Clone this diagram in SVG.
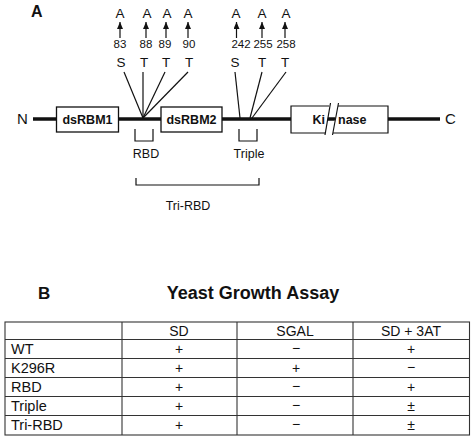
<svg xmlns="http://www.w3.org/2000/svg" width="474" height="439" viewBox="0 0 474 439">
<style>
text{font-family:"Liberation Sans",Arial,sans-serif;fill:#111}
.lab{font-size:13.5px;text-anchor:middle}
.sub{font-size:12.5px;text-anchor:middle}
.num{font-size:11.5px;text-anchor:middle}
.bold{font-weight:bold}
.box{fill:#fff;stroke:#111;stroke-width:1.3}
.thin{stroke:#111;stroke-width:1.2;fill:none}
.arr{stroke:#111;stroke-width:1.2;marker-end:url(#ah)}
.tl{stroke:#333;stroke-width:1.1}
.cell{font-size:14px;text-anchor:middle}
.row{font-size:14.5px}
</style>
<defs>
<marker id="ah" viewBox="0 0 7 6" refX="7" refY="3" markerWidth="7" markerHeight="6" markerUnits="userSpaceOnUse" orient="auto">
<path d="M0,0 L7,3 L0,6 Z" fill="#111"/>
</marker>
</defs>
<text x="31" y="17" font-size="16" class="bold">A</text>
<g id="connectors">
<line x1="33" y1="119" x2="440" y2="119" stroke="#111" stroke-width="3.5"/>
<line x1="124" y1="72" x2="143" y2="118" class="thin"/>
<line x1="143" y1="72" x2="143" y2="118" class="thin"/>
<line x1="165" y1="72" x2="143" y2="118" class="thin"/>
<line x1="188" y1="72" x2="143" y2="118" class="thin"/>
<line x1="235" y1="72" x2="240" y2="118" class="thin"/>
<line x1="262" y1="72" x2="250" y2="118" class="thin"/>
<line x1="286" y1="72" x2="252" y2="118" class="thin"/>
<path d="M135,129 V141 H153 V129" class="thin"/>
<path d="M239,129 V141 H257 V129" class="thin"/>
<path d="M136,178 V185 H259 V178" class="thin"/>
</g>
<g id="N"><text x="17" y="124" font-size="15">N</text></g>
<g id="C"><text x="445" y="124" font-size="15">C</text></g>
<g id="dsRBM1"><rect x="56.5" y="107" width="62" height="25" class="box"/><text x="87.5" y="123.5" font-size="12.5" class="bold" text-anchor="middle">dsRBM1</text></g>
<g id="dsRBM2"><rect x="161" y="107" width="61" height="25" class="box"/><text x="191.5" y="123.5" font-size="12.5" class="bold" text-anchor="middle">dsRBM2</text></g>
<g id="kinase">
<path d="M330,106 H291 V133 H325 Z" fill="#fff"/>
<path d="M338,106 H388 V133 H332 Z" fill="#fff"/>
<path d="M329,106 H291 V133 H325" class="thin" stroke-width="1.3"/>
<path d="M338,106 H388 V133 H333" class="thin" stroke-width="1.3"/>
<line x1="330.5" y1="103" x2="325" y2="135" class="thin"/>
<line x1="338.5" y1="103" x2="332.5" y2="135" class="thin"/>
<text x="325" y="124" font-size="12.5" class="bold" text-anchor="end">Ki</text>
<text x="338" y="124" font-size="12.5" class="bold">nase</text>
</g>
<g id="site83"><text x="120" y="18" class="lab">A</text><line x1="120" y1="38" x2="120" y2="22" class="arr"/><text x="120" y="48" class="num">83</text><text x="121" y="67" class="lab">S</text></g>
<g id="site88"><text x="147" y="18" class="lab">A</text><line x1="146" y1="38" x2="146" y2="22" class="arr"/><text x="146" y="48" class="num">88</text><text x="144" y="67" class="lab">T</text></g>
<g id="site89"><text x="167" y="18" class="lab">A</text><line x1="166" y1="38" x2="166" y2="22" class="arr"/><text x="165" y="48" class="num">89</text><text x="166" y="67" class="lab">T</text></g>
<g id="site90"><text x="188" y="18" class="lab">A</text><line x1="188" y1="38" x2="188" y2="22" class="arr"/><text x="189" y="48" class="num">90</text><text x="189" y="67" class="lab">T</text></g>
<g id="site242"><text x="236" y="18" class="lab">A</text><line x1="236.5" y1="38" x2="236.5" y2="22" class="arr"/><text x="241" y="48" class="num">242</text><text x="235" y="67" class="lab">S</text></g>
<g id="site255"><text x="262" y="18" class="lab">A</text><line x1="262" y1="38" x2="262" y2="22" class="arr"/><text x="263" y="48" class="num">255</text><text x="262" y="67" class="lab">T</text></g>
<g id="site258"><text x="286" y="18" class="lab">A</text><line x1="285" y1="38" x2="285" y2="22" class="arr"/><text x="286" y="48" class="num">258</text><text x="285" y="67" class="lab">T</text></g>
<g id="RBD"><text x="146" y="158" class="sub">RBD</text></g>
<g id="Triple"><text x="249" y="158" class="sub">Triple</text></g>
<g id="TriRBD"><text x="188" y="210" class="sub">Tri-RBD</text></g>
<text x="38" y="299" font-size="17" class="bold">B</text>
<text x="253" y="299" font-size="18" class="bold" text-anchor="middle">Yeast Growth Assay</text>
<g id="table">
<rect x="5" y="322" width="464.5" height="113" fill="none" class="tl"/>
<line x1="5" y1="339.5" x2="469.5" y2="339.5" class="tl"/>
<line x1="5" y1="358.5" x2="469.5" y2="358.5" class="tl"/>
<line x1="5" y1="377.5" x2="469.5" y2="377.5" class="tl"/>
<line x1="5" y1="396.5" x2="469.5" y2="396.5" class="tl"/>
<line x1="5" y1="415.5" x2="469.5" y2="415.5" class="tl"/>
<line x1="122" y1="322" x2="122" y2="435" class="tl"/>
<line x1="237" y1="322" x2="237" y2="435" class="tl"/>
<line x1="353" y1="322" x2="353" y2="435" class="tl" stroke-width="1.5"/>
<text x="179" y="336" class="cell">SD</text>
<text x="295" y="336" class="cell">SGAL</text>
<text x="411" y="336" class="cell">SD + 3AT</text>
<text x="11" y="354" class="row">WT</text>
<text x="11" y="373" class="row">K296R</text>
<text x="11" y="392" class="row">RBD</text>
<text x="11" y="411" class="row">Triple</text>
<text x="11" y="430" class="row">Tri-RBD</text>
<text x="179" y="353.5" class="cell">+</text><text x="296" y="353" class="cell">−</text><text x="411" y="353.5" class="cell">+</text>
<text x="179" y="372.5" class="cell">+</text><text x="296" y="372.5" class="cell">+</text><text x="411" y="372" class="cell">−</text>
<text x="179" y="391.5" class="cell">+</text><text x="296" y="391" class="cell">−</text><text x="411" y="391.5" class="cell">+</text>
<text x="179" y="410.5" class="cell">+</text><text x="296" y="410" class="cell">−</text><text x="411" y="410.5" class="cell">±</text>
<text x="179" y="429.5" class="cell">+</text><text x="296" y="429" class="cell">−</text><text x="411" y="429.5" class="cell">±</text>
</g>
</svg>
